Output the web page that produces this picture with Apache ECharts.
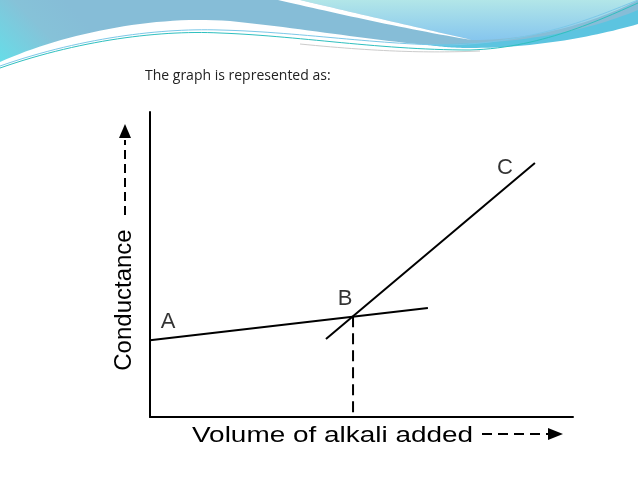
<!DOCTYPE html>
<html>
<head>
<meta charset="utf-8">
<script src="https://cdn.jsdelivr.net/npm/echarts@6/dist/echarts.min.js"></script>
<style>
html,body{margin:0;padding:0;background:#fff;}
#chart{width:638px;height:478px;}
</style>
</head>
<body>
<div id="chart"></div>
<script>
// ---- data ----
const pointNames = ['A', 'B', 'C'];
const pointPos = [[4.3, 31.1], [46.1, 38.7], [83.9, 81.6]];
const lineAB = [[0, 25.2], [65.7, 35.7]];
const lineBC = [[41.6, 25.6], [91, 83.3]];
const pointB = [48, 33];
const dropLine = [[pointB[0], pointB[1]], [pointB[0], 0]];
const titleText = 'The graph is represented as:';
const xTitle = 'Volume of alkali added';
const yTitle = 'Conductance';

// ---- header decoration helpers (pure page ornament) ----
function bez(p0, p1, p2, p3, n) {
  const pts = [];
  for (let i = 0; i <= n; i++) {
    const t = i / n, u = 1 - t;
    pts.push([
      u*u*u*p0[0] + 3*u*u*t*p1[0] + 3*u*t*t*p2[0] + t*t*t*p3[0],
      u*u*u*p0[1] + 3*u*u*t*p1[1] + 3*u*t*t*p2[1] + t*t*t*p3[1]
    ]);
  }
  return pts;
}
function path(start, segs) {
  let pts = [start];
  let cur = start;
  segs.forEach(s => {
    if (s.length === 1) { pts.push(s[0]); cur = s[0]; }
    else { pts = pts.concat(bez(cur, s[0], s[1], s[2], 30).slice(1)); cur = s[2]; }
  });
  return pts;
}

const chart = echarts.init(document.getElementById('chart'), null, {renderer: 'canvas'});
const labelData = pointNames.map((n, i) => ({name: n, value: pointPos[i]}));

const mainBlue = path([0, 0], [[[638, 0]], [[638, 22]], [[590, 36], [530, 47], [470, 47]], [[400, 46], [320, 30], [230, 21]], [[150, 15], [60, 35], [0, 62]]]);
const rightBand = path([420, 44], [[[520, 46], [590, 30], [638, 10]], [[638, 24]], [[590, 38], [530, 48], [470, 48]], [[450, 48], [435, 46], [420, 44]]]);
const lightTop = path([300, 0], [[[638, 0]], [[600, 20], [540, 40], [472, 40]], [[420, 28], [350, 12], [300, 0]]]);
const whiteSwoosh = path([278, 0], [[[330, 12], [410, 30], [472, 40]], [[420, 28], [350, 12], [300, 0]]]);
const thin1 = path([0, 66], [[[80, 38], [160, 28], [220, 30]], [[300, 32], [380, 45], [450, 45]], [[540, 42], [600, 15], [638, 0]]]);
const thin2 = path([0, 68], [[[80, 40], [160, 30], [220, 33]], [[300, 36], [380, 50], [470, 50]], [[540, 48], [600, 20], [638, 3]]]);
const thin3 = path([300, 44], [[[380, 52], [430, 53], [480, 51]]]);

const option = {
  backgroundColor: '#ffffff',
  animation: false,
  grid: {left: 150, top: 112, right: 65, bottom: 61, containLabel: false},
  xAxis: {
    type: 'value', min: 0, max: 100,
    axisLine: {show: true, onZero: false, lineStyle: {color: '#000', width: 2}},
    axisTick: {show: false}, axisLabel: {show: false}, splitLine: {show: false}
  },
  yAxis: {
    type: 'value', min: 0, max: 100,
    axisLine: {show: true, onZero: false, lineStyle: {color: '#000', width: 2}},
    axisTick: {show: false}, axisLabel: {show: false}, splitLine: {show: false}
  },
  series: [
    {type: 'line', data: lineAB, symbol: 'none', lineStyle: {color: '#000', width: 2}},
    {type: 'line', data: lineBC, symbol: 'none', lineStyle: {color: '#000', width: 2}},
    {type: 'line', data: dropLine, symbol: 'none', lineStyle: {color: '#000', width: 2, type: [11, 6]}},
    {
      type: 'scatter', data: labelData, symbolSize: 1,
      itemStyle: {color: 'rgba(0,0,0,0)'},
      label: {show: true, position: 'inside', formatter: '{b}', color: '#000',
        textBorderWidth: 0, fontFamily: 'Liberation Sans, Arial, sans-serif', fontSize: 22}
    }
  ],
  graphic: [
    {type: 'polygon', z: 1, shape: {points: mainBlue},
      style: {fill: new echarts.graphic.LinearGradient(0, 1, 0.1, 0, [{offset: 0, color: '#66dde8'}, {offset: 0.6, color: '#86c2d8'}, {offset: 1, color: '#86bdd7'}])}},
    {type: 'polygon', z: 2, shape: {points: rightBand}, style: {fill: '#5cc4e0'}},
    {type: 'polygon', z: 3, shape: {points: lightTop},
      style: {fill: new echarts.graphic.LinearGradient(0, 0, 0, 1, [{offset: 0, color: '#b2e6e8'}, {offset: 1, color: '#86c6ee'}])}},
    {type: 'polygon', z: 4, shape: {points: whiteSwoosh}, style: {fill: '#ffffff'}},
    {type: 'polyline', z: 5, shape: {points: thin1}, style: {fill: null, stroke: '#7cc8e8', lineWidth: 1}},
    {type: 'polyline', z: 5, shape: {points: thin2}, style: {fill: null, stroke: '#2fc0bf', lineWidth: 1}},
    {type: 'polyline', z: 5, shape: {points: thin3}, style: {fill: null, stroke: '#cccccc', lineWidth: 1}},
    {type: 'text', left: 145, top: 69, style: {text: titleText, fill: '#222', fontFamily: 'Open Sans, sans-serif', fontSize: 14}},
    {type: 'text', x: 192, y: 436, scaleX: 1.27, style: {text: xTitle, fill: '#000', fontFamily: 'Liberation Sans, Arial, sans-serif', fontSize: 22, align: 'left', verticalAlign: 'middle'}},
    {type: 'line', shape: {x1: 482, y1: 434, x2: 549, y2: 434}, style: {stroke: '#000', lineWidth: 2, lineDash: [10, 6]}},
    {type: 'polygon', shape: {points: [[548, 428], [563, 434], [548, 440]]}, style: {fill: '#000'}},
    {type: 'text', x: 124, y: 300, rotation: Math.PI / 2, style: {text: yTitle, fill: '#000', fontFamily: 'Liberation Sans, Arial, sans-serif', fontSize: 24, align: 'center', verticalAlign: 'middle'}},
    {type: 'line', shape: {x1: 125, y1: 215, x2: 125, y2: 140}, style: {stroke: '#000', lineWidth: 2, lineDash: [9, 5]}},
    {type: 'polygon', shape: {points: [[119, 138], [125, 124], [131, 138]]}, style: {fill: '#000'}}
  ]
};
chart.setOption(option);
</script>
</body>
</html>
